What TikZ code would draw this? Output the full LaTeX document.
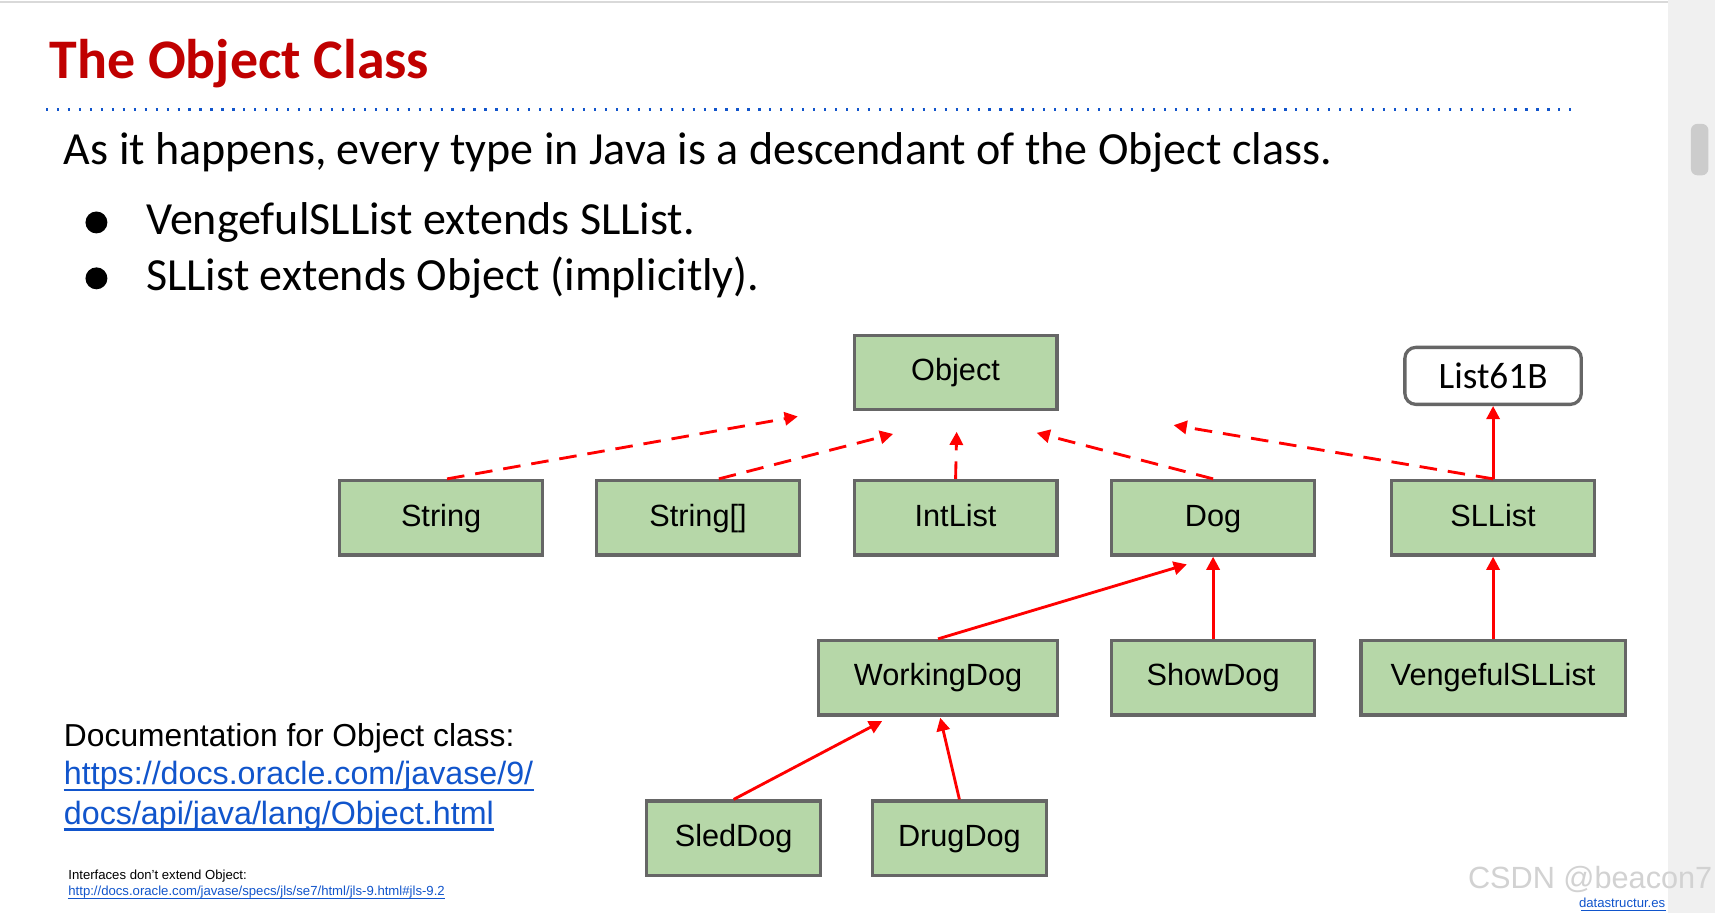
\documentclass[tikz,border=0pt]{standalone}
\usepackage{fontspec}
\setmainfont{Liberation Sans}
\newfontfamily\calfont{Carlito}
\usetikzlibrary{arrows.meta}
\definecolor{boxg}{HTML}{B6D7A8}
\definecolor{edgeg}{HTML}{666666}
\definecolor{titred}{HTML}{C00000}
\definecolor{lnk}{HTML}{1155CC}
\tikzset{cls/.style={draw=edgeg,line width=1.5pt,fill=boxg,minimum width=92.5pt,minimum height=34pt,inner sep=0pt,text height=10.5pt,text depth=3pt,font=\fontsize{14}{16}\selectfont},
ar/.style={red,line width=1.3pt,-{Triangle[length=6pt,width=6pt]}},
dar/.style={ar,dash pattern=on 8pt off 5pt}}
\begin{document}
\begin{tikzpicture}[x=0.5pt,y=-0.5pt]
\useasboundingbox (0,0) rectangle (1565,833);
\fill[white] (0,0) rectangle (1565,833);
\draw[gray!30,line width=1pt] (0,2) -- (1522,2);
\fill[gray!12] (1522,0) rectangle (1565,833);
\fill[gray!40,rounded corners=3pt] (1543,113) rectangle (1559,160);
\node[anchor=base west,text=titred,font=\calfont\bfseries\fontsize{25.5}{28}\selectfont,inner sep=0] (title) at (45,72) {The Object Class};
\draw[lnk,line width=1pt,dash pattern=on 1pt off 4pt] (42,100) -- (1440,100);
\node[anchor=base west,font=\calfont\fontsize{21}{24}\selectfont,inner sep=0] (intro) at (58,150) {As it happens, every type in Java is a descendant of the Object class.};
\node[anchor=base west,font=\calfont\fontsize{21}{24}\selectfont,inner sep=0] (b1) at (133,214) {VengefulSLList extends SLList.};
\node[anchor=base west,font=\calfont\fontsize{21}{24}\selectfont,inner sep=0] (b2) at (133,265) {SLList extends Object (implicitly).};
\fill (88,203) circle (5pt);
\fill (88,254) circle (5pt);

\node[cls] (obj) at (872,340) {Object};
\node[cls] (str) at (402.5,472.5) {String};
\node[cls] (stra) at (637,472.5) {String[]};
\node[cls] (il) at (872,472.5) {IntList};
\node[cls] (dog) at (1107,472.5) {Dog};
\node[cls] (sl) at (1362.5,472.5) {SLList};
\node[draw=edgeg,line width=1.5pt,rounded corners=5pt,fill=white,minimum width=80.5pt,minimum height=26pt,inner sep=0,font=\calfont\fontsize{17}{19}\selectfont] (lst) at (1362.5,343) {List61B};
\node[cls,minimum width=109pt] (wd) at (856,618.5) {WorkingDog};
\node[cls] (sd) at (1107,618.5) {ShowDog};
\node[cls,minimum width=120.5pt] (vs) at (1362.5,618.5) {VengefulSLList};
\node[cls,minimum width=79.5pt] (sled) at (669.5,765) {SledDog};
\node[cls,minimum width=79.5pt] (drug) at (875.5,765) {DrugDog};

\coordinate (e1) at (728,380);
\coordinate (e2) at (815,396);
\coordinate (e3) at (946,395);
\coordinate (e4) at (1071,388);
\coordinate (e5) at (1083,515);
\coordinate (e6) at (805,658);
\draw[dar] (str.north -| 408,0) -- (e1);
\draw[dar] (stra.north -| 656,0) -- (e2);
\draw[dar] (il.north) -- (873,394);
\draw[dar] (dog.north) -- (e3);
\draw[dar] (sl.north) -- (e4);
\draw[ar] (sl.north) -- (lst.south);
\draw[ar] (wd.north) -- (e5);
\draw[ar] (sd.north) -- (dog.south);
\draw[ar] (vs.north) -- (sl.south);
\draw[ar] (sled.north) -- (e6);
\draw[ar] (drug.north) -- (858,655);

\node[anchor=base west,font=\fontsize{14.5}{16}\selectfont,inner sep=0] (doc) at (58,681) {Documentation for Object class:};
\node[anchor=base west,font=\fontsize{14.7}{16}\selectfont,inner sep=0,text=lnk] (l1) at (58,716) {https://docs.oracle.com/javase/9/};
\node[anchor=base west,font=\fontsize{14.7}{16}\selectfont,inner sep=0,text=lnk] (l2) at (58,752) {docs/api/java/lang/Object.html};
\draw[lnk,line width=1pt] (58,721) -- (l1.east |- 0,721);
\draw[lnk,line width=1pt] (58,757) -- (l2.east |- 0,757);
\node[anchor=base west,font=\fontsize{6}{7}\selectfont,inner sep=0] (ie) at (62,803) {Interfaces don't extend Object:};
\node[anchor=base west,font=\fontsize{6}{7}\selectfont,inner sep=0,text=lnk] (il2) at (62,817) {http://docs.oracle.com/javase/specs/jls/se7/html/jls-9.html\#jls-9.2};
\draw[lnk,line width=0.5pt] (62,820) -- (il2.east |- 0,820);
\node[anchor=base east,font=\fontsize{14}{16}\selectfont,inner sep=0,text=gray!35] (wm) at (1563,811) {CSDN @beacon7};
\node[anchor=base east,font=\fontsize{6}{7}\selectfont,inner sep=0,text=lnk] (ds) at (1520,828) {datastructur.es};
\draw[lnk,line width=0.5pt] (1443,831) -- (1520,831);
\end{tikzpicture}
\end{document}
